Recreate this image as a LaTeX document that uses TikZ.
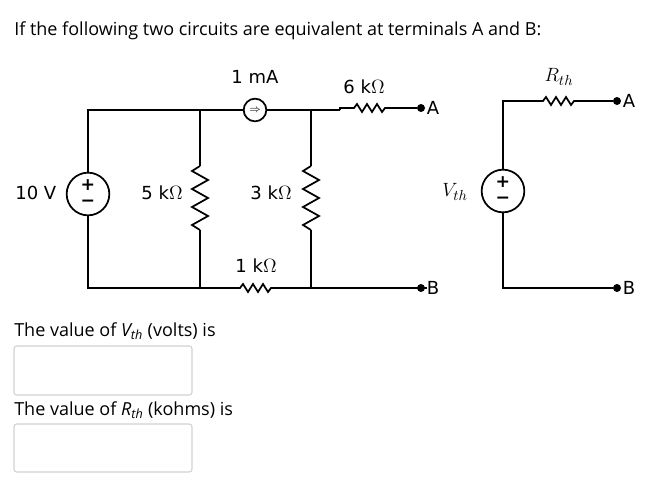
\documentclass[tikz,border=0pt]{standalone}
\usepackage{fontspec}
\setmainfont{Open Sans}
\newfontfamily\lab{DejaVu Sans}
\begin{document}
\begin{tikzpicture}[x=0.75pt,y=-0.75pt,
  wire/.style={line width=1.3pt},
  lbl/.style={font=\lab\fontsize{13.5}{15}\selectfont},
  pm/.style={font=\lab\bfseries\fontsize{13}{13}\selectfont,inner sep=0},
  txt/.style={font=\fontsize{13.5}{16}\selectfont,anchor=west,inner sep=0},
  dot/.style={circle,fill,inner sep=0,minimum size=6pt},
  ans/.style={draw=black!18,rounded corners=2pt,line width=0.8pt},
  src/.style={circle,draw,line width=1.3pt,minimum size=32pt,inner sep=0},
  res/.pic={\draw[wire] (-20,0) -- (-16,0) -- (-13,-4) -- (-8,4) -- (-3,-4) -- (2,4) -- (7,-4) -- (12,4) -- (15,0) -- (20,0);},
  resv/.pic={\draw[wire] (-32,0) -- (-27,-8) -- (-18,8) -- (-9,-8) -- (0,8) -- (9,-8) -- (18,8) -- (27,-8) -- (32,0);}]
\useasboundingbox (0,0) rectangle (672,490);
\node[txt] at (14,31) {If the following two circuits are equivalent at terminals A and B:};
% left circuit
\coordinate (tl) at (88,110); \coordinate (bl) at (88,288);
\coordinate (t5) at (200,110); \coordinate (b5) at (200,288);
\coordinate (t3) at (311,110); \coordinate (b3) at (311,288);
\node[src] (vs) at (88,194) {};
\node[pm] at (88,185) {+};
\node[pm] at (88,203) {−};
\node[lbl,anchor=east] at (61,193) {10 V};
\node[circle,draw,line width=1.3pt,minimum size=17pt,inner sep=0] (cs) at (255,110) {};
\node[font=\lab\fontsize{8}{8}\selectfont] at (255,110) {$\Rightarrow$};
\node[lbl] at (255,77) {1 mA};
\draw[wire] (vs) -- (tl) -- (t5) -- (cs) -- (t3) -- (340,110);
\draw[wire] (vs) -- (bl) -- (b5) -- (236,288);
\draw[wire] (276,288) -- (b3) -- (427,288);
\pic at (256,288) {res};
\pic[rotate=90] at (200,198) {resv};
\pic[rotate=90] at (311,198) {resv};
\draw[wire] (t5) -- (200,166) (200,230) -- (b5);
\draw[wire] (t3) -- (311,166) (311,230) -- (b3);
\node[lbl] at (162,193) {5 k$\Omega$};
\node[lbl] at (271,193) {3 k$\Omega$};
\node[lbl] at (256,266) {1 k$\Omega$};
% 6k
\draw[wire] (340,110) -- (340,108) -- (350,108);
\pic at (370,108) {res};
\node[dot] (A1) at (421,108) {};
\draw[wire] (390,108) -- (A1);
\node[dot] (B1) at (421,288) {};
\node[lbl] at (364,87) {6 k$\Omega$};
\node[lbl,anchor=west,inner sep=1pt] at (A1.east) {A};
\node[lbl,anchor=west,inner sep=1pt] at (B1.east) {B};
% right circuit
\node[src] (vt) at (503,191) {};
\node[pm] at (503,182) {+};
\node[pm] at (503,200) {−};
\node[font=\fontsize{15}{17}\selectfont] at (455,192) {$V_{th}$};
\draw[wire] (vt) -- (503,101) -- (539,101);
\pic at (559,101) {res};
\node[dot] (A2) at (617,101) {};
\draw[wire] (579,101) -- (A2);
\node[dot] (B2) at (617,288) {};
\draw[wire] (vt) -- (503,288) -- (B2);
\node[font=\fontsize{15}{17}\selectfont] at (559,77) {$R_{th}$};
\node[lbl,anchor=west,inner sep=1pt] at (A2.east) {A};
\node[lbl,anchor=west,inner sep=1pt] at (B2.east) {B};
% questions
\node[txt] at (14,331) {The value of \textit{V\textsubscript{th}} (volts) is};
\draw[ans] (14,346) rectangle (192,395);
\node[txt] at (14,410) {The value of \textit{R\textsubscript{th}} (kohms) is};
\draw[ans] (14,424) rectangle (192,472);
\end{tikzpicture}
\end{document}
